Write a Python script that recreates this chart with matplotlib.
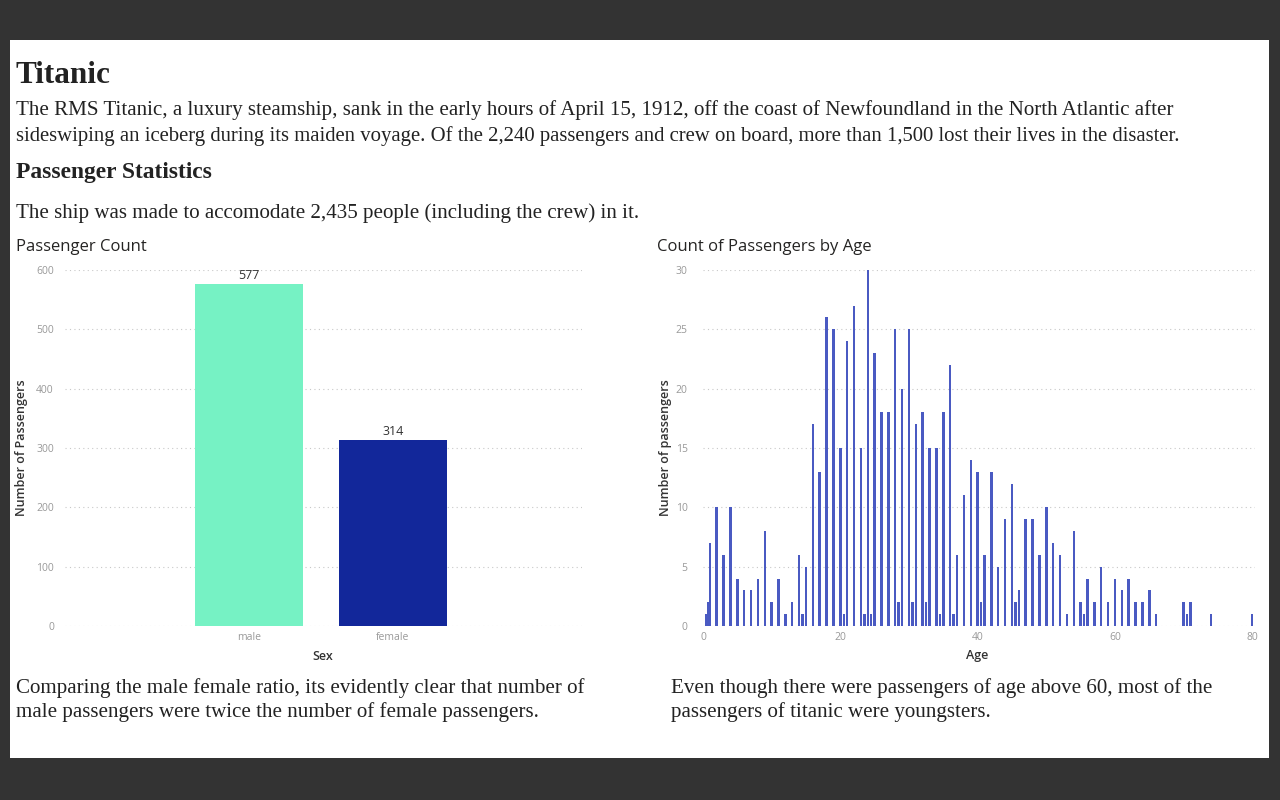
import matplotlib.pyplot as plt
from matplotlib.patches import Rectangle

# Data
sexes = ['male', 'female']
sex_counts = [577, 314]
sex_colors = ['#76F2C4', '#12279A']

ages = [0.42, 0.67, 0.75, 0.83, 0.92, 1, 2, 3, 4, 5, 6, 7, 8, 9, 10, 11, 12, 13, 14, 14.5,
        15, 16, 17, 18, 19, 20, 20.5, 21, 22, 23, 23.5, 24, 24.5, 25, 26, 27, 28, 28.5,
        29, 30, 30.5, 31, 32, 32.5, 33, 34, 34.5, 35, 36, 36.5, 37, 38, 39, 40, 40.5,
        41, 42, 43, 44, 45, 45.5, 46, 47, 48, 49, 50, 51, 52, 53, 54, 55, 55.5, 56, 57,
        58, 59, 60, 61, 62, 63, 64, 65, 66, 70, 70.5, 71, 74, 80]
age_counts = [1, 1, 2, 2, 1, 7, 10, 6, 10, 4, 3, 3, 4, 8, 2, 4, 1, 2, 6, 1,
              5, 17, 13, 26, 25, 15, 1, 24, 27, 15, 1, 30, 1, 23, 18, 18, 25, 2,
              20, 25, 2, 17, 18, 2, 15, 15, 1, 18, 22, 1, 6, 11, 14, 13, 2,
              6, 13, 5, 9, 12, 2, 3, 9, 9, 6, 10, 7, 6, 1, 8, 2, 1, 4, 2,
              5, 2, 4, 3, 4, 2, 2, 3, 1, 2, 1, 2, 1, 1]

W, H = 1280, 800


def fx(px):
    return px / W


def fy(py):
    return 1 - py / H


fig = plt.figure(figsize=(12.8, 8), dpi=100)
fig.patch.set_facecolor('#333333')
fig.add_artist(Rectangle((fx(10), fy(758)), (1269 - 10) / W, (758 - 40) / H,
                         transform=fig.transFigure, facecolor='white',
                         edgecolor='none', zorder=0))

serif = 'Liberation Serif'
sans = 'Open Sans'
txt = '#222222'


def line(x, y, s, **kw):
    fig.text(fx(x), fy(y), s, family=serif, color=txt, va='baseline', **kw)


# Header text
line(16, 83, 'Titanic', weight='bold', size=22.5)
line(16, 115, 'The RMS Titanic, a luxury steamship, sank in the early hours of April 15, 1912, '
     'off the coast of Newfoundland in the North Atlantic after', size=15.1)
line(16, 141, 'sideswiping an iceberg during its maiden voyage. Of the 2,240 passengers and crew '
     'on board, more than 1,500 lost their lives in the disaster.', size=14.95)
line(16, 178, 'Passenger Statistics', weight='bold', size=16.9)
line(16, 218, 'The ship was made to accomodate 2,435 people (including the crew) in it.', size=15.1)

# Footer text
line(16, 693, 'Comparing the male female ratio, its evidently clear that number of', size=15.1)
line(16, 717, 'male passengers were twice the number of female passengers.', size=15.1)
line(671, 693, 'Even though there were passengers of age above 60, most of the', size=15.1)
line(671, 717, 'passengers of titanic were youngsters.', size=15.1)

# Chart titles
fig.text(fx(16), fy(251), 'Passenger Count', family=sans, size=12, weight='medium',
         color='#252423', va='baseline')
fig.text(fx(657), fy(251), 'Count of Passengers by Age', family=sans, size=12,
         weight='medium', color='#252423', va='baseline')

# Axis titles
lab = dict(family=sans, size=9, weight='semibold', color='#333333', ha='center', va='center')
fig.text(fx(323), fy(656), 'Sex', **lab)
fig.text(fx(977), fy(656), 'Age', **lab)
fig.text(fx(22), fy(448), 'Number of Passengers', rotation=90, **lab)
fig.text(fx(665), fy(448), 'Number of passengers', rotation=90, **lab)


def style_axis(ax):
    for s in ax.spines.values():
        s.set_visible(False)
    ax.set_facecolor('none')
    ax.grid(axis='y', linestyle=(0, (1, 3)), color='#C8C8C8', linewidth=0.8)
    ax.set_axisbelow(True)
    ax.tick_params(length=0, labelsize=7.5, labelcolor='#999999')
    for t in ax.get_xticklabels() + ax.get_yticklabels():
        t.set_family(sans)


# Left chart: passenger count by sex
ax1 = fig.add_axes([fx(65), fy(626), (582 - 65) / W, (626 - 270) / H])
pos = list(range(len(sexes)))
bars = ax1.bar(pos, sex_counts, width=0.75, color=sex_colors)
ax1.set_xlim(-1.278, 2.3125)
ax1.set_ylim(0, 600)
ax1.set_yticks(range(0, 601, 100))
ax1.set_xticks(pos)
ax1.set_xticklabels(sexes)
style_axis(ax1)
ax1.tick_params(axis='y', pad=8)
ax1.tick_params(axis='x', pad=4)
for b, v in zip(bars, sex_counts):
    ax1.annotate(str(v), (b.get_x() + b.get_width() / 2, v), xytext=(0, 1),
                 textcoords='offset points', ha='center', va='bottom',
                 family=sans, size=9, color='#333333')

# Right chart: count of passengers by age
ax2 = fig.add_axes([fx(703), fy(626), (1255 - 703) / W, (626 - 270) / H])
ax2.bar(ages, age_counts, width=0.36, color='#4A5AC2')
ax2.set_xlim(0, 80.4)
ax2.set_ylim(0, 30)
ax2.set_yticks(range(0, 31, 5))
ax2.set_xticks(range(0, 81, 20))
style_axis(ax2)
ax2.tick_params(axis='y', pad=11)
ax2.tick_params(axis='x', pad=4)

fig.savefig('out.png', dpi=100, facecolor=fig.get_facecolor())
